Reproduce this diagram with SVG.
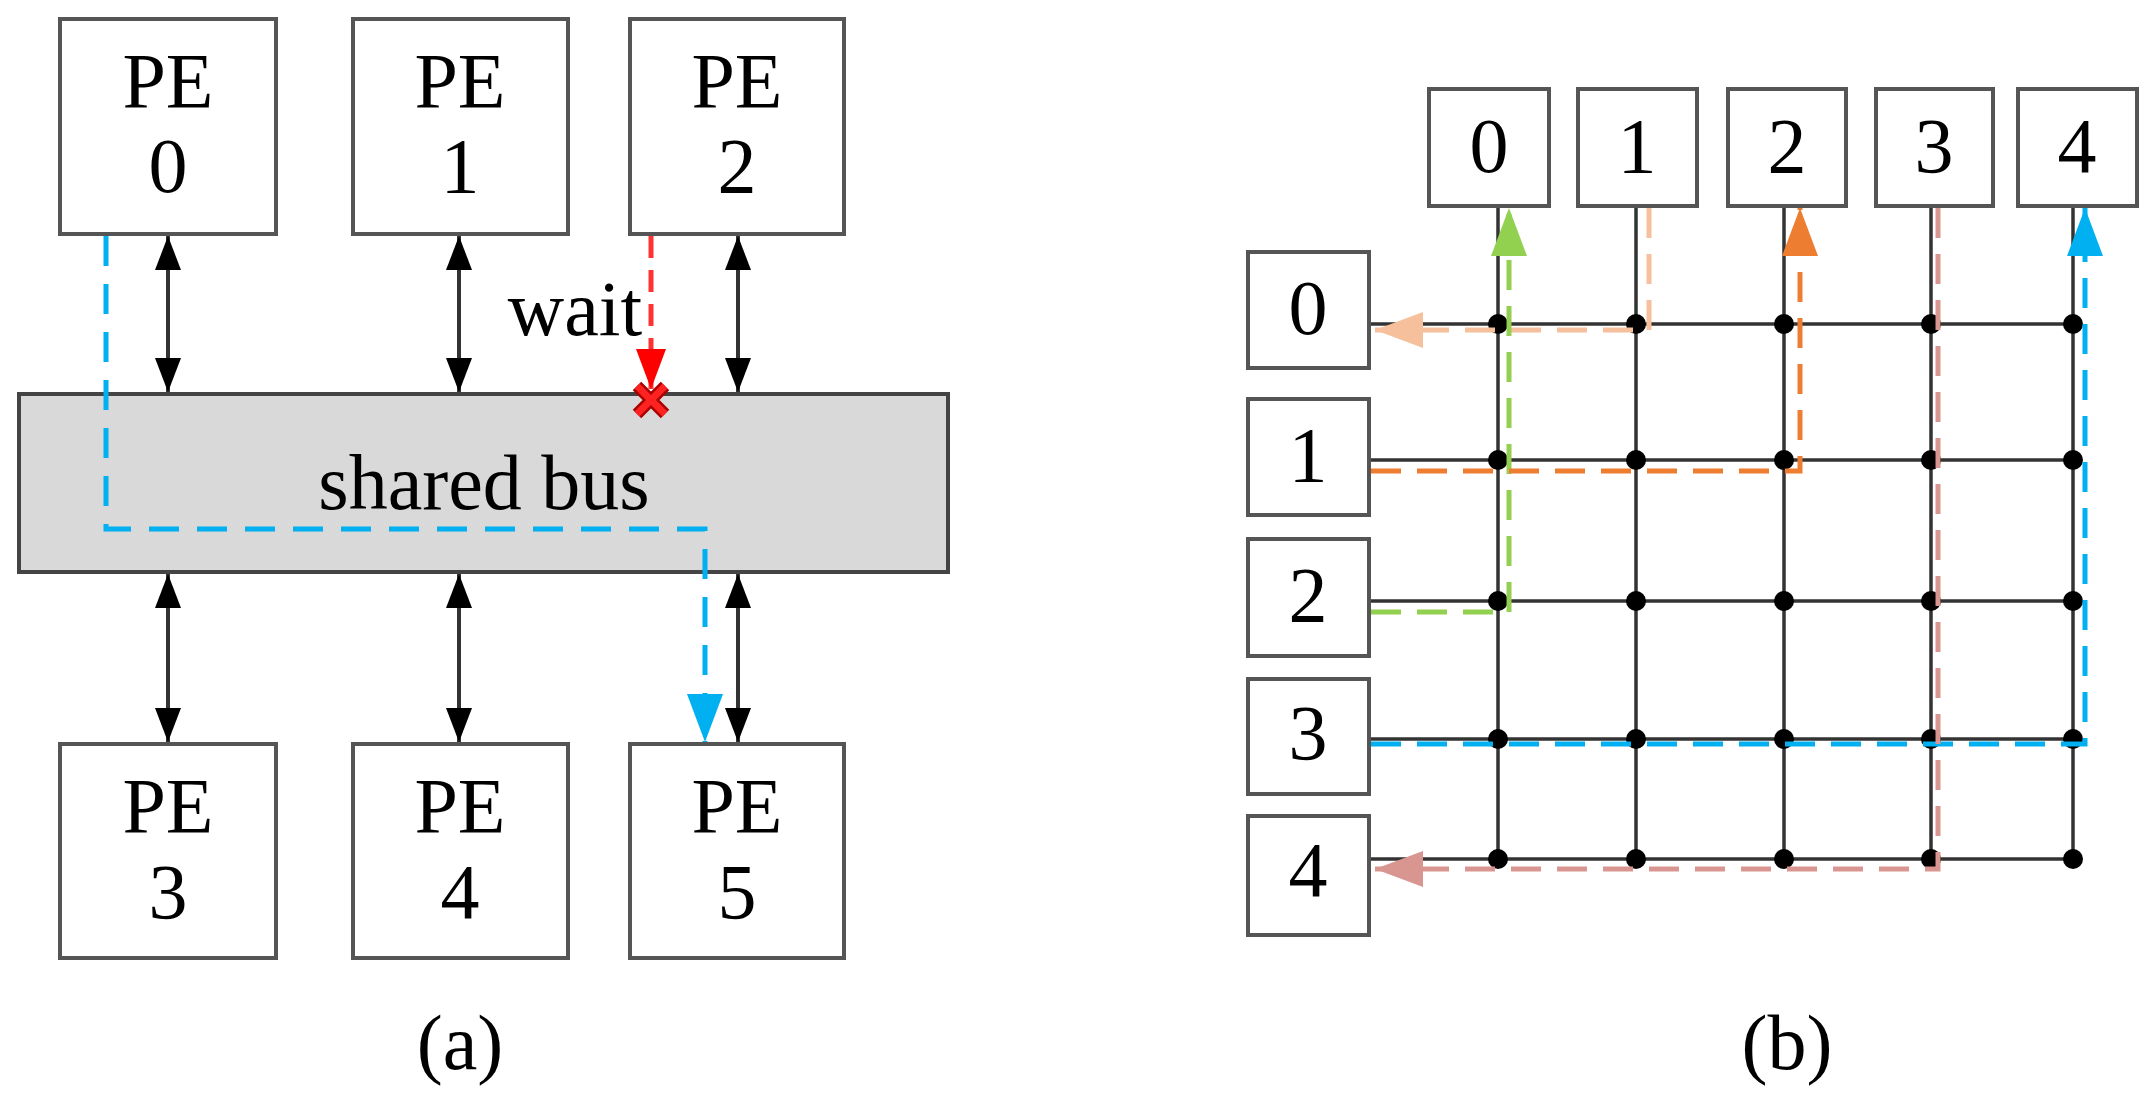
<svg xmlns="http://www.w3.org/2000/svg" width="2155" height="1106" viewBox="0 0 2155 1106">
<style>
.box{fill:#fff;stroke:#555;stroke-width:4}
.t{font-family:"Liberation Serif","Times New Roman","DejaVu Serif",serif;font-size:78px;fill:#000;text-anchor:middle}
.ln{stroke:#333;stroke-width:4;fill:none}
.g{stroke:#333;stroke-width:3.5;fill:none}
</style>
<defs>
<marker id="ab" viewBox="0 0 10 10" refX="10" refY="5" markerWidth="34" markerHeight="26" orient="auto-start-reverse" markerUnits="userSpaceOnUse" preserveAspectRatio="none"><path d="M0,0L10,5L0,10z" fill="#000"/></marker>
<marker id="ar" viewBox="0 0 10 10" refX="10" refY="5" markerWidth="40" markerHeight="30" orient="auto" markerUnits="userSpaceOnUse" preserveAspectRatio="none"><path d="M0,0L10,5L0,10z" fill="#f00"/></marker>
<marker id="mp" viewBox="0 0 10 10" refX="10" refY="5" markerWidth="48" markerHeight="36" orient="auto" markerUnits="userSpaceOnUse" preserveAspectRatio="none"><path d="M0,0L10,5L0,10z" fill="#f5c09b"/></marker>
<marker id="mg" viewBox="0 0 10 10" refX="10" refY="5" markerWidth="48" markerHeight="36" orient="auto" markerUnits="userSpaceOnUse" preserveAspectRatio="none"><path d="M0,0L10,5L0,10z" fill="#92d050"/></marker>
<marker id="mo" viewBox="0 0 10 10" refX="10" refY="5" markerWidth="48" markerHeight="36" orient="auto" markerUnits="userSpaceOnUse" preserveAspectRatio="none"><path d="M0,0L10,5L0,10z" fill="#ed7d31"/></marker>
<marker id="mb" viewBox="0 0 10 10" refX="10" refY="5" markerWidth="48" markerHeight="36" orient="auto" markerUnits="userSpaceOnUse" preserveAspectRatio="none"><path d="M0,0L10,5L0,10z" fill="#00b0f0"/></marker>
<marker id="mk" viewBox="0 0 10 10" refX="10" refY="5" markerWidth="48" markerHeight="36" orient="auto" markerUnits="userSpaceOnUse" preserveAspectRatio="none"><path d="M0,0L10,5L0,10z" fill="#d9958f"/></marker>
</defs>
<rect width="2155" height="1106" fill="#fff"/>
<g id="bus"><rect x="19" y="394" width="929" height="178" fill="#d9d9d9" stroke="#444" stroke-width="4"/><text class="t" x="484" y="509" font-size="80">shared bus</text></g>
<g id="pe0"><rect class="box" x="60" y="19" width="216" height="215"/><text class="t" x="168" y="107">PE</text><text class="t" x="168" y="192">0</text></g>
<g id="pe1"><rect class="box" x="353" y="19" width="215" height="215"/><text class="t" x="460" y="107">PE</text><text class="t" x="460" y="192">1</text></g>
<g id="pe2"><rect class="box" x="630" y="19" width="214" height="215"/><text class="t" x="737" y="107">PE</text><text class="t" x="737" y="192">2</text></g>
<g id="pe3"><rect class="box" x="60" y="744" width="216" height="214"/><text class="t" x="168" y="832">PE</text><text class="t" x="168" y="918">3</text></g>
<g id="pe4"><rect class="box" x="353" y="744" width="215" height="214"/><text class="t" x="460" y="832">PE</text><text class="t" x="460" y="918">4</text></g>
<g id="pe5"><rect class="box" x="630" y="744" width="214" height="214"/><text class="t" x="737" y="832">PE</text><text class="t" x="737" y="918">5</text></g>
<text class="t" x="575" y="335" font-size="72">wait</text>
<text class="t" x="460" y="1069">(a)</text>
<g id="connectors-a">
<line class="ln" x1="168" y1="236" x2="168" y2="392" marker-start="url(#ab)" marker-end="url(#ab)"/>
<line class="ln" x1="459" y1="236" x2="459" y2="392" marker-start="url(#ab)" marker-end="url(#ab)"/>
<line class="ln" x1="738" y1="236" x2="738" y2="392" marker-start="url(#ab)" marker-end="url(#ab)"/>
<line class="ln" x1="168" y1="574" x2="168" y2="742" marker-start="url(#ab)" marker-end="url(#ab)"/>
<line class="ln" x1="459" y1="574" x2="459" y2="742" marker-start="url(#ab)" marker-end="url(#ab)"/>
<line class="ln" x1="738" y1="574" x2="738" y2="742" marker-start="url(#ab)" marker-end="url(#ab)"/>
<line x1="651" y1="236" x2="651" y2="389" stroke="#f33" stroke-width="5" stroke-dasharray="22,12" marker-end="url(#ar)"/>
<path d="M106,236V529H705V742" fill="none" stroke="#00b0f0" stroke-width="5" stroke-dasharray="30,18" marker-end="url(#mb)"/>
<path d="M637,386L665,414M665,386L637,414" stroke="#a00" stroke-width="12"/>
<path d="M637,386L665,414M665,386L637,414" stroke="#f22" stroke-width="7"/>
</g>
<g id="grid">
<path class="g" d="M1498,206V859M1636,206V859M1784,206V859M1931,206V859M2073,206V859"/>
<path class="g" d="M1369,324H2073M1369,460H2073M1369,601H2073M1369,739H2073M1369,859H2073"/>
<g fill="#000">
<circle cx="1498" cy="324" r="10"/><circle cx="1636" cy="324" r="10"/><circle cx="1784" cy="324" r="10"/><circle cx="1931" cy="324" r="10"/><circle cx="2073" cy="324" r="10"/>
<circle cx="1498" cy="460" r="10"/><circle cx="1636" cy="460" r="10"/><circle cx="1784" cy="460" r="10"/><circle cx="1931" cy="460" r="10"/><circle cx="2073" cy="460" r="10"/>
<circle cx="1498" cy="601" r="10"/><circle cx="1636" cy="601" r="10"/><circle cx="1784" cy="601" r="10"/><circle cx="1931" cy="601" r="10"/><circle cx="2073" cy="601" r="10"/>
<circle cx="1498" cy="739" r="10"/><circle cx="1636" cy="739" r="10"/><circle cx="1784" cy="739" r="10"/><circle cx="1931" cy="739" r="10"/><circle cx="2073" cy="739" r="10"/>
<circle cx="1498" cy="859" r="10"/><circle cx="1636" cy="859" r="10"/><circle cx="1784" cy="859" r="10"/><circle cx="1931" cy="859" r="10"/><circle cx="2073" cy="859" r="10"/>
</g>
</g>
<g id="c0"><rect class="box" x="1429" y="89" width="120" height="117"/><text class="t" x="1489" y="172">0</text></g>
<g id="c1"><rect class="box" x="1578" y="89" width="119" height="117"/><text class="t" x="1637" y="172">1</text></g>
<g id="c2"><rect class="box" x="1728" y="89" width="118" height="117"/><text class="t" x="1787" y="172">2</text></g>
<g id="c3"><rect class="box" x="1876" y="89" width="117" height="117"/><text class="t" x="1934" y="172">3</text></g>
<g id="c4"><rect class="box" x="2018" y="89" width="119" height="117"/><text class="t" x="2077" y="172">4</text></g>
<g id="r0"><rect class="box" x="1248" y="252" width="121" height="116"/><text class="t" x="1308" y="334">0</text></g>
<g id="r1"><rect class="box" x="1248" y="399" width="121" height="116"/><text class="t" x="1308" y="481">1</text></g>
<g id="r2"><rect class="box" x="1248" y="539" width="121" height="117"/><text class="t" x="1308" y="621">2</text></g>
<g id="r3"><rect class="box" x="1248" y="679" width="121" height="115"/><text class="t" x="1308" y="759">3</text></g>
<g id="r4"><rect class="box" x="1248" y="816" width="121" height="119"/><text class="t" x="1308" y="896">4</text></g>
<text class="t" x="1787" y="1069">(b)</text>
<g id="connectors-b" fill="none" stroke-width="5" stroke-dasharray="30,16">
<path d="M1649,208V330H1375" stroke="#f5c09b" marker-end="url(#mp)"/>
<path d="M1371,612H1509V208" stroke="#92d050" marker-end="url(#mg)"/>
<path d="M1371,471H1800V208" stroke="#ed7d31" marker-end="url(#mo)"/>
<path d="M1371,744H2085V208" stroke="#00b0f0" marker-end="url(#mb)"/>
<path d="M1938,208V869H1375" stroke="#d9958f" marker-end="url(#mk)"/>
</g>
</svg>
